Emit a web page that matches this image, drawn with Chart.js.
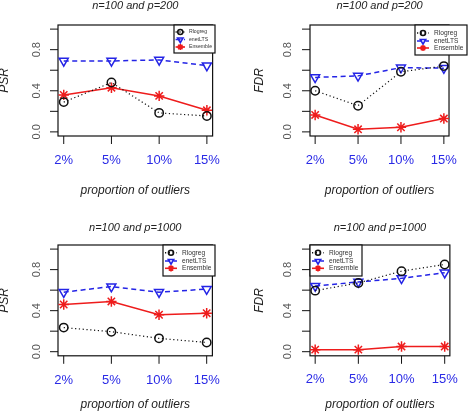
<!DOCTYPE html>
<html lang="en">
<head>
<meta charset="UTF-8">
<title>PSR and FDR by proportion of outliers</title>
<script src="https://cdn.jsdelivr.net/npm/chart.js"></script>
<style>
  body { margin: 0; background: #fff; }
  #page { position: relative; width: 474px; height: 411px; overflow: hidden; }
  #page canvas { position: absolute; }
</style>
</head>
<body>
<div id="page">
  <canvas id="psr200" width="237" height="205" style="left:0;top:0"></canvas>
  <canvas id="fdr200" width="237" height="205" style="left:237px;top:0"></canvas>
  <canvas id="psr1000" width="237" height="206" style="left:0;top:205px"></canvas>
  <canvas id="fdr1000" width="237" height="206" style="left:237px;top:205px"></canvas>
</div>

<script>
// categories and series
const outlierLabels = ['2%', '5%', '10%', '15%'];
const seriesNames = ['Rlogreg', 'enetLTS', 'Ensemble'];

const psrP200Rlogreg  = [0.29, 0.48, 0.185, 0.155];
const psrP200EnetLTS  = [0.69, 0.69, 0.70, 0.645];
const psrP200Ensemble = [0.36, 0.43, 0.35, 0.21];

const fdrP200Rlogreg  = [0.40, 0.255, 0.585, 0.64];
const fdrP200EnetLTS  = [0.53, 0.545, 0.625, 0.62];
const fdrP200Ensemble = [0.165, 0.025, 0.045, 0.13];

const psrP1000Rlogreg  = [0.235, 0.195, 0.13, 0.09];
const psrP1000EnetLTS  = [0.58, 0.635, 0.58, 0.61];
const psrP1000Ensemble = [0.46, 0.49, 0.36, 0.375];

const fdrP1000Rlogreg  = [0.595, 0.67, 0.785, 0.85];
const fdrP1000EnetLTS  = [0.64, 0.68, 0.715, 0.77];
const fdrP1000Ensemble = [0.02, 0.02, 0.05, 0.05];

const yTickValues = [0, 0.2, 0.4, 0.6, 0.8, 1.0];
const yTickShown = ['0.0', '', '0.4', '', '0.8', ''];

Chart.defaults.font.family = '"Liberation Sans", Arial, sans-serif';
Chart.defaults.color = '#333';

// line / marker look of each method
const seriesStyles = [
  { color: '#111111', dash: [1.2, 2.6], width: 1.2, pointStyle: 'circle',   radius: 4.2, rotation: 0 },
  { color: '#2424e6', dash: [5, 3.5],   width: 1.5, pointStyle: 'triangle', radius: 5.2, rotation: 180 },
  { color: '#ee1c1c', dash: [],         width: 1.5, pointStyle: 'star',     radius: 5.2, rotation: 0 }
];

// R-like frame: box around the plot region plus outward tick marks
const rFrame = {
  id: 'rFrame',
  beforeDatasetsDraw(chart) {
    const { ctx, chartArea: a, scales: { x, y } } = chart;
    ctx.save();
    ctx.strokeStyle = '#111';
    ctx.lineWidth = 1.2;
    ctx.strokeRect(a.left, a.top, a.right - a.left, a.bottom - a.top);
    ctx.lineWidth = 1;
    ctx.beginPath();
    y.ticks.forEach(t => {
      const py = y.getPixelForValue(t.value);
      ctx.moveTo(a.left - 8, py); ctx.lineTo(a.left, py);
    });
    x.ticks.forEach(t => {
      const px = x.getPixelForValue(t.value);
      ctx.moveTo(px, a.bottom); ctx.lineTo(px, a.bottom + 8);
    });
    ctx.stroke();
    ctx.restore();
  }
};

function drawMarker(ctx, style, radius, rotation, px, py) {
  if (Chart.helpers && Chart.helpers.drawPoint) {
    Chart.helpers.drawPoint(ctx, { pointStyle: style, radius: radius, rotation: rotation, borderWidth: 1.2 }, px, py);
    return;
  }
  ctx.beginPath();
  ctx.arc(px, py, radius, 0, Math.PI * 2);
  ctx.stroke();
}

// boxed legend inside the plot, like R's legend()
const rLegend = {
  id: 'rLegend',
  afterDatasetsDraw(chart, args, o) {
    const { ctx } = chart;
    const k = o.font / 6.6;
    ctx.save();
    ctx.fillStyle = '#fff';
    ctx.fillRect(o.x, o.y, o.w, o.h);
    ctx.strokeStyle = '#111';
    ctx.lineWidth = 1.2;
    ctx.strokeRect(o.x, o.y, o.w, o.h);
    chart.data.datasets.forEach((ds, i) => {
      const ry = o.rows[i];
      ctx.strokeStyle = ds.borderColor;
      ctx.lineWidth = 1.6;
      ctx.setLineDash(ds.borderDash || []);
      ctx.beginPath();
      ctx.moveTo(o.x + 2 * k, ry);
      ctx.lineTo(o.x + 14 * k, ry);
      ctx.stroke();
      ctx.setLineDash([]);
      ctx.fillStyle = 'rgba(0,0,0,0)';
      drawMarker(ctx, ds.pointStyle, ds.pointRadius * 0.6, ds.pointRotation || 0, o.x + 8 * k, ry);
      ctx.fillStyle = '#333';
      ctx.font = o.font + 'px "Liberation Sans", Arial, sans-serif';
      ctx.textBaseline = 'middle';
      ctx.fillText(ds.label, o.x + 19 * k, ry);
    });
    ctx.restore();
  }
};

const panels = [
  { id: 'psr200', title: 'n=100 and p=200', ylab: 'PSR', h: 205,
    series: [psrP200Rlogreg, psrP200EnetLTS, psrP200Ensemble],
    box: { l: 58, r: 215, t: 25, b: 136 }, titleY: 6, ylabX: 5, yTickX: 36.5, xTickY: 160, xlabY: 191,
    legend: { x: 174, y: 25, w: 41, h: 28, font: 5.2, rows: [32, 39.5, 47] } },
  { id: 'fdr200', title: 'n=100 and p=200', ylab: 'FDR', h: 205,
    series: [fdrP200Rlogreg, fdrP200EnetLTS, fdrP200Ensemble],
    box: { l: 73, r: 230, t: 25, b: 136 }, titleY: 6, ylabX: 22.5, yTickX: 51, xTickY: 160, xlabY: 191,
    legend: { x: 178, y: 25, w: 52, h: 30, font: 6.6, rows: [33, 41, 48] } },
  { id: 'psr1000', title: 'n=100 and p=1000', ylab: 'PSR', h: 206,
    series: [psrP1000Rlogreg, psrP1000EnetLTS, psrP1000Ensemble],
    box: { l: 58, r: 215, t: 40, b: 150.8 }, titleY: 23.3, ylabX: 5, yTickX: 36.5, xTickY: 175, xlabY: 200,
    legend: { x: 163, y: 40, w: 52, h: 31, font: 6.6, rows: [47.7, 56, 63.3] } },
  { id: 'fdr1000', title: 'n=100 and p=1000', ylab: 'FDR', h: 206,
    series: [fdrP1000Rlogreg, fdrP1000EnetLTS, fdrP1000Ensemble],
    box: { l: 73, r: 230, t: 40, b: 150.8 }, titleY: 23.3, ylabX: 22.5, yTickX: 51, xTickY: 174, xlabY: 200,
    legend: { x: 73, y: 40, w: 52, h: 31, font: 6.6, rows: [47.7, 56, 63.3] } }
];

panels.forEach(p => {
  const titleTop = p.titleY - 5.5;
  new Chart(document.getElementById(p.id), {
    type: 'line',
    data: {
      datasets: seriesNames.map((name, i) => {
        const s = seriesStyles[i];
        return {
          label: name,
          data: p.series[i].map((v, j) => ({ x: j + 1, y: v })),
          borderColor: s.color,
          borderWidth: s.width,
          borderDash: s.dash,
          fill: false,
          tension: 0,
          pointStyle: s.pointStyle,
          pointRadius: s.radius,
          pointRotation: s.rotation,
          pointBorderColor: s.color,
          pointBackgroundColor: 'rgba(0,0,0,0)',
          pointBorderWidth: 1.5
        };
      })
    },
    options: {
      responsive: false,
      animation: false,
      layout: { autoPadding: false, padding: { left: 0, right: 237 - p.box.r, top: 0, bottom: 0 } },
      plugins: {
        legend: { display: false },
        tooltip: { enabled: false },
        title: {
          display: true, text: p.title, fullSize: false, color: '#222',
          font: { size: 11, style: 'italic', weight: 'normal', lineHeight: 1 },
          padding: { top: titleTop, bottom: p.box.t - 11 - titleTop }
        },
        rLegend: p.legend
      },
      scales: {
        x: {
          type: 'linear', min: 0.88, max: 4.12,
          grid: { display: false, drawTicks: false },
          border: { display: false },
          afterBuildTicks: s => { s.ticks = outlierLabels.map((_, i) => ({ value: i + 1 })); },
          afterFit: s => { s.height = p.h - p.box.b; },
          ticks: {
            autoSkip: false, maxRotation: 0, color: '#2a2ae6',
            font: { size: 13 },
            padding: p.xTickY - p.box.b - 7.8,
            callback: (v, i) => outlierLabels[i]
          },
          title: {
            display: true, text: 'proportion of outliers', color: '#222',
            font: { size: 12, style: 'italic' },
            padding: { top: 0, bottom: p.h - p.xlabY - 7.2 }
          }
        },
        y: {
          min: -0.04, max: 1.04,
          grid: { display: false, drawTicks: false },
          border: { display: false },
          afterBuildTicks: s => { s.ticks = yTickValues.map(v => ({ value: v })); },
          afterFit: s => { s.width = p.box.l; },
          ticks: {
            autoSkip: false, minRotation: 90, maxRotation: 90, crossAlign: 'center',
            color: '#555', font: { size: 11 },
            padding: p.box.l - p.yTickX - 7.65,
            callback: (v, i) => yTickShown[i]
          },
          title: {
            display: true, text: p.ylab, color: '#222',
            font: { size: 12, style: 'italic' },
            padding: { top: p.ylabX - 7.2, bottom: 0 }
          }
        }
      }
    },
    plugins: [rFrame, rLegend]
  });
});
</script>
</body>
</html>
